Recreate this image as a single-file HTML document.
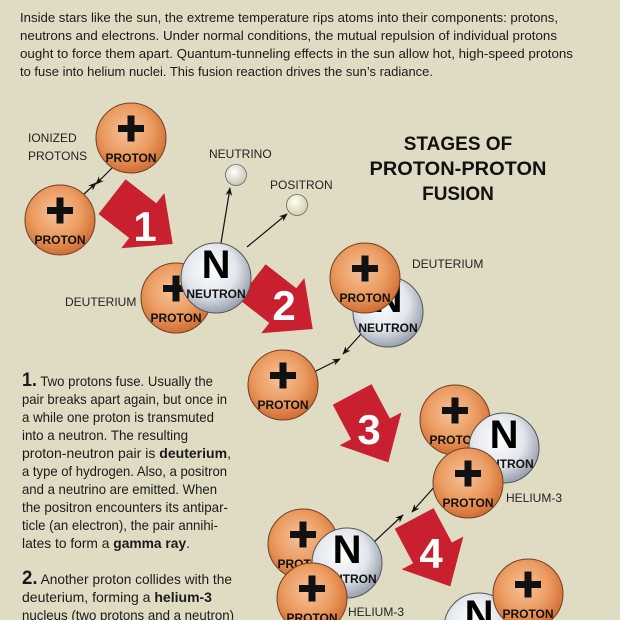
<!DOCTYPE html>
<html><head><meta charset="utf-8"><style>
html,body{margin:0;padding:0;background:#e0dcc3;width:620px;height:620px;overflow:hidden}
svg{display:block}
.b{font-family:"Liberation Sans",sans-serif;fill:#1a1a1a}
.lab{font-family:"Liberation Sans",sans-serif;font-size:12px;fill:#222}
.pl{font-family:"Liberation Sans Narrow","Liberation Sans",sans-serif;font-weight:bold;font-size:12px;fill:#111}
.nn{font-family:"Liberation Sans",sans-serif;font-weight:bold;font-size:40px;fill:#000}
.num{font-family:"Liberation Sans",sans-serif;font-weight:bold;font-size:42px;fill:#fff}
</style></head><body>
<svg width="620" height="620" viewBox="0 0 620 620" xmlns="http://www.w3.org/2000/svg" overflow="hidden">
<defs>
<radialGradient id="pg" cx="0.45" cy="0.4" r="0.6">
<stop offset="0" stop-color="#f6c29a"/><stop offset="0.6" stop-color="#eb9a5f"/><stop offset="1" stop-color="#d06e35"/></radialGradient>
<radialGradient id="ng" cx="0.42" cy="0.38" r="0.62">
<stop offset="0" stop-color="#ffffff"/><stop offset="0.6" stop-color="#e2e6ec"/><stop offset="1" stop-color="#9aa3b0"/></radialGradient>
<radialGradient id="sg" cx="0.4" cy="0.35" r="0.65">
<stop offset="0" stop-color="#ffffff"/><stop offset="1" stop-color="#c9c6b4"/></radialGradient>
<radialGradient id="sg2" cx="0.4" cy="0.35" r="0.65">
<stop offset="0" stop-color="#fffff2"/><stop offset="1" stop-color="#d4d1a8"/></radialGradient>
<marker id="ah" viewBox="0 0 10 10" refX="9" refY="5" markerWidth="7" markerHeight="7" orient="auto"><path d="M0,1 L10,5 L0,9 L3,5z" fill="#111"/></marker>
</defs>
<rect width="620" height="620" fill="#e0dcc3"/>

<g class="b" font-size="13">
<text x="20" y="22" textLength="538" lengthAdjust="spacingAndGlyphs">Inside stars like the sun, the extreme temperature rips atoms into their components: protons,</text>
<text x="20" y="40" textLength="537" lengthAdjust="spacingAndGlyphs">neutrons and electrons. Under normal conditions, the mutual repulsion of individual protons</text>
<text x="20" y="58" textLength="553" lengthAdjust="spacingAndGlyphs">ought to force them apart. Quantum-tunneling effects in the sun allow hot, high-speed protons</text>
<text x="20" y="76" textLength="413" lengthAdjust="spacingAndGlyphs">to fuse into helium nuclei. This fusion reaction drives the sun’s radiance.</text>
</g>

<g font-family="Liberation Sans,sans-serif" font-weight="bold" font-size="19" fill="#111" text-anchor="middle">
<text x="458" y="150">STAGES OF</text>
<text x="458" y="175" textLength="177" lengthAdjust="spacingAndGlyphs">PROTON-PROTON</text>
<text x="458" y="200">FUSION</text>
</g>

<text class="lab" x="28" y="142">IONIZED</text>
<text class="lab" x="28" y="160">PROTONS</text>
<text class="lab" x="209" y="158">NEUTRINO</text>
<text class="lab" x="270" y="189">POSITRON</text>
<text class="lab" x="65" y="306">DEUTERIUM</text>
<text class="lab" x="412" y="268">DEUTERIUM</text>
<text class="lab" x="506" y="502">HELIUM-3</text>
<text class="lab" x="348" y="616">HELIUM-3</text>

<g stroke="#111" stroke-width="1.2" fill="none" marker-end="url(#ah)">
<line x1="113" y1="167" x2="96" y2="184"/>
<line x1="83" y1="195" x2="96" y2="183"/>
<line x1="221" y1="243" x2="230" y2="188"/>
<line x1="247" y1="247" x2="287" y2="214"/>
<line x1="362" y1="333" x2="343" y2="354"/>
<line x1="314" y1="372" x2="340" y2="359"/>
<line x1="436" y1="485" x2="412" y2="512"/>
<line x1="374" y1="542" x2="403" y2="515"/>
</g>

<g fill="#c8202f">
<polygon transform="translate(142,220) rotate(38)" points="-38,-22 1,-22 1,-35 39,0 1,35 1,22 -38,22"/>
<polygon transform="translate(282,305) rotate(38)" points="-38,-22 1,-22 1,-35 39,0 1,35 1,22 -38,22"/>
<polygon transform="translate(370,428) rotate(62)" points="-38,-22 1,-22 1,-35 39,0 1,35 1,22 -38,22"/>
<polygon transform="translate(432,552) rotate(62)" points="-38,-22 1,-22 1,-35 39,0 1,35 1,22 -38,22"/>
</g>
<g class="num" text-anchor="middle">
<text x="145" y="241">1</text>
<text x="284" y="320">2</text>
<text x="369" y="444">3</text>
<text x="431" y="568">4</text>
</g>

<circle cx="236" cy="175" r="10.5" fill="url(#sg)" stroke="#666" stroke-width="0.8"/>
<circle cx="297" cy="205" r="10.5" fill="url(#sg2)" stroke="#666" stroke-width="0.8"/>

<g transform="translate(131,138)"><circle r="35" fill="url(#pg)" stroke="#6e4326" stroke-width="1"/><rect x="-13" y="-13" width="26" height="7" fill="#111"/><rect x="-3.5" y="-22.5" width="7" height="26" fill="#111"/><text class="pl" y="24" text-anchor="middle">PROTON</text></g>
<g transform="translate(60,220)"><circle r="35" fill="url(#pg)" stroke="#6e4326" stroke-width="1"/><rect x="-13" y="-13" width="26" height="7" fill="#111"/><rect x="-3.5" y="-22.5" width="7" height="26" fill="#111"/><text class="pl" y="24" text-anchor="middle">PROTON</text></g>

<g transform="translate(176,298)"><circle r="35" fill="url(#pg)" stroke="#6e4326" stroke-width="1"/><rect x="-13" y="-13" width="26" height="7" fill="#111"/><rect x="-3.5" y="-22.5" width="7" height="26" fill="#111"/><text class="pl" y="24" text-anchor="middle">PROTON</text></g>
<g transform="translate(216,278)"><circle r="35" fill="url(#ng)" stroke="#555" stroke-width="1"/><text class="nn" y="0" text-anchor="middle">N</text><text class="pl" y="20" text-anchor="middle">NEUTRON</text></g>

<g transform="translate(388,312)"><circle r="35" fill="url(#ng)" stroke="#555" stroke-width="1"/><text class="nn" y="0" text-anchor="middle">N</text><text class="pl" y="20" text-anchor="middle">NEUTRON</text></g>
<g transform="translate(365,278)"><circle r="35" fill="url(#pg)" stroke="#6e4326" stroke-width="1"/><rect x="-13" y="-13" width="26" height="7" fill="#111"/><rect x="-3.5" y="-22.5" width="7" height="26" fill="#111"/><text class="pl" y="24" text-anchor="middle">PROTON</text></g>

<g transform="translate(283,385)"><circle r="35" fill="url(#pg)" stroke="#6e4326" stroke-width="1"/><rect x="-13" y="-13" width="26" height="7" fill="#111"/><rect x="-3.5" y="-22.5" width="7" height="26" fill="#111"/><text class="pl" y="24" text-anchor="middle">PROTON</text></g>

<g transform="translate(455,420)"><circle r="35" fill="url(#pg)" stroke="#6e4326" stroke-width="1"/><rect x="-13" y="-13" width="26" height="7" fill="#111"/><rect x="-3.5" y="-22.5" width="7" height="26" fill="#111"/><text class="pl" y="24" text-anchor="middle">PROTON</text></g>
<g transform="translate(504,448)"><circle r="35" fill="url(#ng)" stroke="#555" stroke-width="1"/><text class="nn" y="0" text-anchor="middle">N</text><text class="pl" y="20" text-anchor="middle">NEUTRON</text></g>
<g transform="translate(468,483)"><circle r="35" fill="url(#pg)" stroke="#6e4326" stroke-width="1"/><rect x="-13" y="-13" width="26" height="7" fill="#111"/><rect x="-3.5" y="-22.5" width="7" height="26" fill="#111"/><text class="pl" y="24" text-anchor="middle">PROTON</text></g>

<g transform="translate(303,544)"><circle r="35" fill="url(#pg)" stroke="#6e4326" stroke-width="1"/><rect x="-13" y="-13" width="26" height="7" fill="#111"/><rect x="-3.5" y="-22.5" width="7" height="26" fill="#111"/><text class="pl" y="24" text-anchor="middle">PROTON</text></g>
<g transform="translate(347,563)"><circle r="35" fill="url(#ng)" stroke="#555" stroke-width="1"/><text class="nn" y="0" text-anchor="middle">N</text><text class="pl" y="20" text-anchor="middle">NEUTRON</text></g>
<g transform="translate(312,598)"><circle r="35" fill="url(#pg)" stroke="#6e4326" stroke-width="1"/><rect x="-13" y="-13" width="26" height="7" fill="#111"/><rect x="-3.5" y="-22.5" width="7" height="26" fill="#111"/><text class="pl" y="24" text-anchor="middle">PROTON</text></g>

<g transform="translate(479,628)"><circle r="35" fill="url(#ng)" stroke="#555" stroke-width="1"/><text class="nn" y="0" text-anchor="middle">N</text></g>
<g transform="translate(528,594)"><circle r="35" fill="url(#pg)" stroke="#6e4326" stroke-width="1"/><rect x="-13" y="-13" width="26" height="7" fill="#111"/><rect x="-3.5" y="-22.5" width="7" height="26" fill="#111"/><text class="pl" y="24" text-anchor="middle">PROTON</text></g>

<g class="b" font-size="14">
<text x="22" y="386" textLength="191" lengthAdjust="spacingAndGlyphs"><tspan font-weight="bold" font-size="19">1.</tspan> Two protons fuse. Usually the</text>
<text x="22" y="404" textLength="205" lengthAdjust="spacingAndGlyphs">pair breaks apart again, but once in</text>
<text x="22" y="422" textLength="192" lengthAdjust="spacingAndGlyphs">a while one proton is transmuted</text>
<text x="22" y="440" textLength="166" lengthAdjust="spacingAndGlyphs">into a neutron.  The resulting</text>
<text x="22" y="458" textLength="209" lengthAdjust="spacingAndGlyphs">proton-neutron pair is <tspan font-weight="bold">deuterium</tspan>,</text>
<text x="22" y="476" textLength="205" lengthAdjust="spacingAndGlyphs">a type of hydrogen. Also, a positron</text>
<text x="22" y="494" textLength="195" lengthAdjust="spacingAndGlyphs">and a neutrino are emitted. When</text>
<text x="22" y="512" textLength="206" lengthAdjust="spacingAndGlyphs">the positron encounters its antipar-</text>
<text x="22" y="530" textLength="196" lengthAdjust="spacingAndGlyphs">ticle (an electron), the pair annihi-</text>
<text x="22" y="548" textLength="168" lengthAdjust="spacingAndGlyphs">lates to form a <tspan font-weight="bold">gamma ray</tspan>.</text>
<text x="22" y="584" textLength="210" lengthAdjust="spacingAndGlyphs"><tspan font-weight="bold" font-size="19">2.</tspan> Another proton collides with the</text>
<text x="22" y="602" textLength="190" lengthAdjust="spacingAndGlyphs">deuterium, forming a <tspan font-weight="bold">helium-3</tspan></text>
<text x="22" y="620" textLength="212" lengthAdjust="spacingAndGlyphs">nucleus (two protons and a neutron)</text>
</g>
</svg>
</body></html>
